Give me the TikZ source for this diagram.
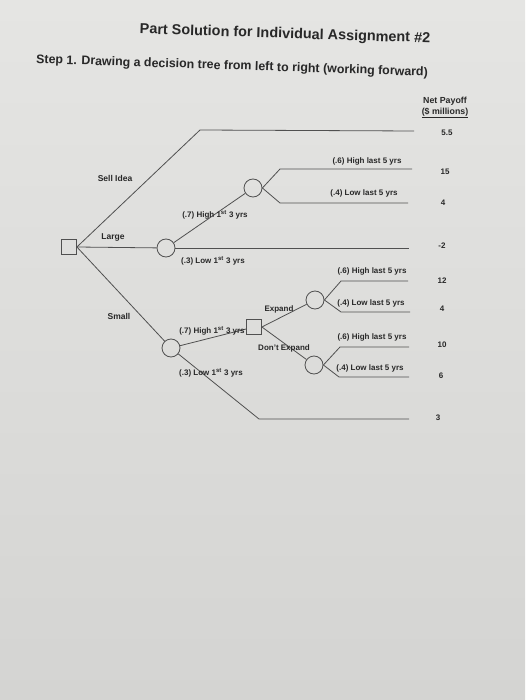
\documentclass[tikz,border=0pt]{standalone}
\usepackage{fontspec}
\setmainfont{Liberation Sans}
\definecolor{paper}{RGB}{229,229,227}
\definecolor{paperdark}{RGB}{212,212,210}
\definecolor{ink}{RGB}{40,40,40}
\definecolor{wire}{RGB}{80,80,80}
\begin{document}
\begin{tikzpicture}[x=1pt,y=-1pt,
  lbl/.style={text=ink,font=\fontsize{8}{9}\selectfont\bfseries,inner sep=0pt},
  dlbl/.style={text=ink,font=\fontsize{8.5}{10}\selectfont\bfseries,inner sep=0pt},
  pay/.style={text=ink,font=\fontsize{8}{9}\selectfont\bfseries,inner sep=0pt},
  chance/.style={circle,draw=wire,line width=0.8pt,minimum size=18pt,inner sep=0pt},
  decision/.style={rectangle,draw=wire,line width=0.8pt,minimum size=15pt,inner sep=0pt},
  br/.style={draw=wire,line width=0.8pt}]
\shade[top color=paper,bottom color=paperdark] (0,0) rectangle (525,700);
\useasboundingbox (0,0) rectangle (525,700);

% headings
\node[rotate=-1.8,text=ink,font=\fontsize{14.4}{16}\selectfont\bfseries] (title) at (285,34.5) {Part Solution for Individual Assignment \#2};
\node[rotate=-1.9,text=ink,font=\fontsize{12.4}{14}\selectfont\bfseries] (step) at (232,66.5) {Step 1. Drawing a decision tree from left to right (working forward)};
\node[text=ink,font=\fontsize{8.8}{10}\selectfont\bfseries,inner sep=0pt] (np) at (445,101) {Net Payoff};
\node[text=ink,font=\fontsize{8.8}{10}\selectfont\bfseries,inner sep=0pt] (npu) at (445,113) {\underline{(\$ millions)}};

% nodes
\node[decision] (root) at (69,247) {};
\node[chance] (c1) at (166,248) {};
\node[chance] (c2) at (253,188) {};
\node[chance] (c3) at (171,348) {};
\node[decision] (s2) at (254,327) {};
\node[chance] (c4) at (315,300) {};
\node[chance] (c5) at (314,365) {};

% coordinates
\coordinate (sellK) at (200,130);
\coordinate (sellE) at (414,131);
\coordinate (c1E) at (409,248);
\coordinate (c2hK) at (280,169);
\coordinate (c2hE) at (412,169);
\coordinate (c2lK) at (280,203);
\coordinate (c2lE) at (408,203);
\coordinate (c3lK) at (259,419);
\coordinate (c3lE) at (409,419);
\coordinate (c4hK) at (341,281);
\coordinate (c4hE) at (408,281);
\coordinate (c4lK) at (341,312);
\coordinate (c4lE) at (410,312);
\coordinate (c5hK) at (340,347);
\coordinate (c5hE) at (409,347);
\coordinate (c5lK) at (339,377);
\coordinate (c5lE) at (409,377);

% branches
\draw[br] (root.east) -- (sellK) -- (sellE);
\draw[br] (root.east) -- (c1);
\draw[br] (root.east) -- (c3);
\draw[br] (c1) -- (c2);
\draw[br] (c1) -- (c1E);
\draw[br] (c2.east) -- (c2hK) -- (c2hE);
\draw[br] (c2.east) -- (c2lK) -- (c2lE);
\draw[br] (c3) -- (s2);
\draw[br] (c3) -- (c3lK) -- (c3lE);
\draw[br] (s2.east) -- (c4);
\draw[br] (s2.east) -- (c5);
\draw[br] (c4.east) -- (c4hK) -- (c4hE);
\draw[br] (c4.east) -- (c4lK) -- (c4lE);
\draw[br] (c5.east) -- (c5hK) -- (c5hE);
\draw[br] (c5.east) -- (c5lK) -- (c5lE);

% branch labels
\node[dlbl] (lSell) at (115,178) {Sell Idea};
\node[dlbl] (lLarge) at (113,237) {Large};
\node[dlbl] (lSmall) at (119,316) {Small};
\node[lbl] (lH1) at (215,215) {(.7) High 1\textsuperscript{st} 3 yrs};
\node[lbl] (lL1) at (213,261) {(.3) Low 1\textsuperscript{st} 3 yrs};
\node[lbl] (lH2) at (367,161) {(.6) High last 5 yrs};
\node[lbl] (lL2) at (364,193) {(.4) Low last 5 yrs};
\node[lbl] (lH3) at (212,331) {(.7) High 1\textsuperscript{st} 3 yrs};
\node[lbl] (lL3) at (211,373) {(.3) Low 1\textsuperscript{st} 3 yrs};
\node[lbl] (lExp) at (279,309) {Expand};
\node[lbl] (lDExp) at (284,348) {Don't Expand};
\node[lbl] (lH4) at (372,271) {(.6) High last 5 yrs};
\node[lbl] (lL4) at (371,303) {(.4) Low last 5 yrs};
\node[lbl] (lH5) at (372,337) {(.6) High last 5 yrs};
\node[lbl] (lL5) at (370,368) {(.4) Low last 5 yrs};

% payoffs
\node[pay] (p1) at (447,133) {5.5};
\node[pay] (p2) at (445,172) {15};
\node[pay] (p3) at (443,203) {4};
\node[pay] (p4) at (442,246) {-2};
\node[pay] (p5) at (442,281) {12};
\node[pay] (p6) at (442,309) {4};
\node[pay] (p7) at (442,345) {10};
\node[pay] (p8) at (441,376) {6};
\node[pay] (p9) at (438,418) {3};
\end{tikzpicture}
\end{document}
